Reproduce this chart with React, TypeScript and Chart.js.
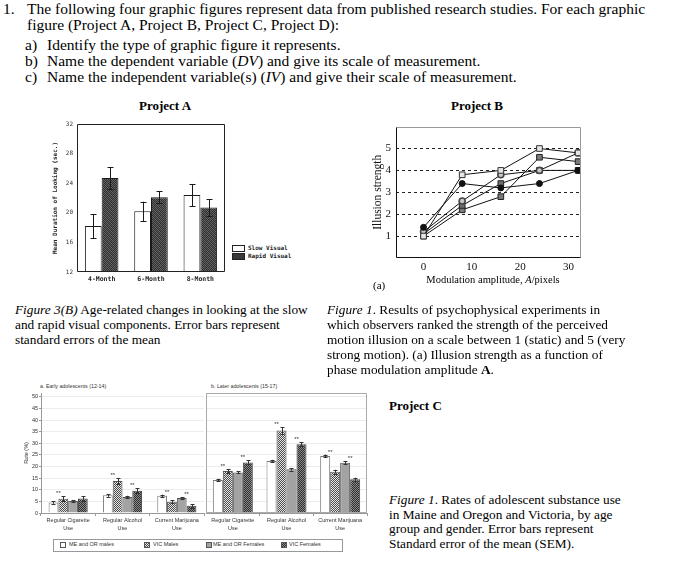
import React, { useEffect, useRef } from 'react';
import { Chart, registerables } from 'chart.js';

Chart.register(...registerables);

// ---------------- Project A data ----------------
const aCategories = ['4-Month', '6-Month', '8-Month'];
const aSlow = [18.2, 20.2, 22.4];
const aSlowErr = [1.6, 1.3, 1.5];
const aRapid = [24.7, 22.1, 20.7];
const aRapidErr = [1.5, 0.8, 1.1];
const aTicks = [12, 16, 20, 24, 28, 32];

// ---------------- Project B data ----------------
const bX = [0, 8, 16, 24, 32];
const bOpenSquare = [1.0, 3.8, 4.0, 5.0, 4.8];
const bBlackCircle = [1.4, 3.4, 3.2, 3.4, 4.0];
const bRingCircle = [1.2, 2.6, 3.8, 4.0, 4.8];
const bGraySquareA = [1.1, 2.4, 3.4, 4.0, 4.0];
const bGraySquareB = [1.0, 2.2, 2.8, 4.6, 4.4];
const bTicksX = [0, 10, 20, 30];
const bTicksY = [1, 2, 3, 4, 5];

// ---------------- Project C data ----------------
const cCategories = [
  ['Regular Cigarette', 'Use'],
  ['Regular Alcohol', 'Use'],
  ['Current Marijuana', 'Use'],
];
const cTicks = [0, 5, 10, 15, 20, 25, 30, 35, 40, 45, 50];
const cSeriesNames = ['ME and OR males', 'VIC Males', 'ME and OR Females', 'VIC Females'];

const earlyMeOrMales = [4.5, 7.6, 7.4];
const earlyVicMales = [6.1, 13.8, 4.9];
const earlyMeOrFemales = [5.2, 6.9, 6.5];
const earlyVicFemales = [6.3, 9.6, 3.1];
const earlyMeOrMalesErr = [0.5, 0.6, 0.5];
const earlyVicMalesErr = [1.1, 1.3, 0.7];
const earlyMeOrFemalesErr = [0.4, 0.5, 0.4];
const earlyVicFemalesErr = [1.0, 1.0, 0.8];
const earlySigMales = [true, true, true];
const earlySigFemales = [false, true, true];

const laterMeOrMales = [14.2, 22.4, 24.6];
const laterVicMales = [18.1, 35.5, 17.8];
const laterMeOrFemales = [17.5, 18.8, 21.7];
const laterVicFemales = [21.8, 29.6, 14.5];
const laterMeOrMalesErr = [0.5, 0.5, 0.6];
const laterVicMalesErr = [0.9, 1.4, 0.8];
const laterMeOrFemalesErr = [0.4, 0.5, 0.6];
const laterVicFemalesErr = [0.9, 0.9, 0.7];
const laterSigMales = [true, true, true];
const laterSigFemales = [true, true, true];

// ---------------- helpers ----------------
function makePattern(rows: string[][]): CanvasPattern | string {
  const c = document.createElement('canvas');
  c.height = rows.length;
  c.width = rows[0].length;
  const ctx = c.getContext('2d');
  if (!ctx) return rows[0][0];
  rows.forEach((row, y) => row.forEach((col, x) => {
    ctx.fillStyle = col;
    ctx.fillRect(x, y, 1, 1);
  }));
  return ctx.createPattern(c, 'repeat') || rows[0][0];
}

const errorBarPlugin = {
  id: 'errorBars',
  afterDatasetsDraw(chart: any, _args: any, opts: any) {
    const ctx = chart.ctx;
    const yScale = chart.scales.y;
    ctx.save();
    ctx.strokeStyle = opts.color || '#000';
    ctx.lineWidth = opts.width || 1;
    chart.data.datasets.forEach((ds: any, i: number) => {
      if (!ds.errors) return;
      const meta = chart.getDatasetMeta(i);
      meta.data.forEach((el: any, j: number) => {
        const v = ds.data[j];
        const e = ds.errors[j];
        const x = Math.round(el.x) + 0.5;
        const yT = yScale.getPixelForValue(v + e);
        const yB = yScale.getPixelForValue(v - e);
        const cap = opts.cap || 2;
        ctx.beginPath();
        ctx.moveTo(x, yT);
        ctx.lineTo(x, yB);
        ctx.moveTo(x - cap, Math.round(yT) + 0.5);
        ctx.lineTo(x + cap, Math.round(yT) + 0.5);
        ctx.moveTo(x - cap, Math.round(yB) + 0.5);
        ctx.lineTo(x + cap, Math.round(yB) + 0.5);
        ctx.stroke();
      });
    });
    ctx.restore();
  },
};

const pairSigPlugin = {
  id: 'pairSig',
  afterDatasetsDraw(chart: any, _args: any, opts: any) {
    if (!opts.pairs) return;
    const ctx = chart.ctx;
    const yScale = chart.scales.y;
    ctx.save();
    ctx.fillStyle = opts.color || '#333';
    ctx.font = `${opts.size || 6}px "Liberation Sans", Arial, sans-serif`;
    ctx.textAlign = 'center';
    ctx.textBaseline = 'alphabetic';
    opts.pairs.forEach((p: any) => {
      const [a, b, flags] = p;
      const dsA = chart.data.datasets[a];
      const dsB = chart.data.datasets[b];
      const mA = chart.getDatasetMeta(a);
      const mB = chart.getDatasetMeta(b);
      flags.forEach((f: boolean, j: number) => {
        if (!f) return;
        const top = Math.max(dsA.data[j] + dsA.errors[j], dsB.data[j] + dsB.errors[j]);
        const x = (mA.data[j].x + mB.data[j].x) / 2;
        const y = yScale.getPixelForValue(top) - 1;
        ctx.fillText('**', x, y);
      });
    });
    ctx.restore();
  },
};

const framePlugin = {
  id: 'frame',
  afterDatasetsDraw(chart: any, _args: any, opts: any) {
    const { left, right, top, bottom } = chart.chartArea;
    const ctx = chart.ctx;
    ctx.save();
    ctx.lineWidth = 1;
    const l = Math.round(left) + 0.5, r = Math.round(right) - 0.5;
    const t = Math.round(top) + 0.5, b = Math.round(bottom) - 0.5;
    ctx.strokeStyle = opts.topRight || opts.color || '#000';
    ctx.beginPath();
    ctx.moveTo(l, t); ctx.lineTo(r, t); ctx.lineTo(r, b);
    ctx.stroke();
    ctx.strokeStyle = opts.leftBottom || opts.color || '#000';
    ctx.lineWidth = opts.axisWidth || 1;
    ctx.beginPath();
    ctx.moveTo(l, t); ctx.lineTo(l, b); ctx.lineTo(r, b);
    ctx.stroke();
    ctx.restore();
  },
};

function ChartBox(props: { left: number; top: number; width: number; height: number; make: () => any }) {
  const ref = useRef<HTMLCanvasElement | null>(null);
  useEffect(() => {
    if (!ref.current) return;
    const chart = new Chart(ref.current, props.make());
    return () => chart.destroy();
  }, []);
  return (
    <canvas
      ref={ref}
      width={props.width}
      height={props.height}
      style={{ position: 'absolute', left: props.left, top: props.top, width: props.width, height: props.height }}
    />
  );
}

const mono = '"DejaVu Sans Mono", monospace';
const serif = '"Liberation Serif", "Times New Roman", serif';
const sans = '"Liberation Sans", Arial, sans-serif';

function makeA() {
  const stipple = makePattern([
    ['#2b2b2b', '#5a5a5a', '#333333', '#6a6a6a'],
    ['#666666', '#2e2e2e', '#5e5e5e', '#303030'],
    ['#353535', '#6a6a6a', '#2a2a2a', '#5a5a5a'],
    ['#5e5e5e', '#303030', '#686868', '#2e2e2e'],
  ]);
  return {
    type: 'bar',
    data: {
      labels: aCategories,
      datasets: [
        { label: 'Slow Visual', data: aSlow, errors: aSlowErr, backgroundColor: '#ffffff', borderColor: '#1a1a1a', borderWidth: 1 },
        { label: 'Rapid Visual', data: aRapid, errors: aRapidErr, backgroundColor: stipple, borderColor: '#1a1a1a', borderWidth: 1 },
      ],
    },
    options: {
      responsive: false,
      animation: false,
      layout: { padding: { left: 0, right: 5, top: 9, bottom: 0 } },
      datasets: { bar: { categoryPercentage: 0.68, barPercentage: 1 } },
      plugins: {
        legend: { display: false },
        tooltip: { enabled: false },
        errorBars: { color: '#1a1a1a', cap: 3, width: 1 },
        frame: { color: '#222' },
      },
      scales: {
        x: {
          grid: { display: false, drawTicks: false },
          border: { display: false },
          ticks: { font: { family: mono, size: 6.5, weight: 'bold' }, color: '#222', padding: 3 },
          afterFit: (s: any) => { s.height = 18; },
        },
        y: {
          min: 12,
          max: 32,
          afterBuildTicks: (s: any) => { s.ticks = aTicks.map((v) => ({ value: v })); },
          grid: { display: false, drawTicks: false },
          border: { display: false },
          ticks: { font: { family: mono, size: 6 }, color: '#333', padding: 4 },
          title: {
            display: true,
            text: 'Mean Duration of Looking (sec.)',
            font: { family: mono, size: 6, weight: 'bold' },
            color: '#222',
            padding: { top: 12, bottom: 0 },
          },
          afterFit: (s: any) => { s.width = 37; },
        },
      },
    },
    plugins: [errorBarPlugin, framePlugin],
  };
}

function makeB() {
  const series = [
    { data: bOpenSquare, style: 'rect', fill: '#e6e6e6', border: '#333', r: 4 },
    { data: bBlackCircle, style: 'circle', fill: '#111', border: '#111', r: 3 },
    { data: bRingCircle, style: 'circle', fill: '#c8c8c8', border: '#444', r: 3 },
    { data: bGraySquareA, style: 'rect', fill: '#6e6e6e', border: '#222', r: 4 },
    { data: bGraySquareB, style: 'rect', fill: '#7a7a7a', border: '#222', r: 4 },
  ];
  return {
    type: 'scatter',
    data: {
      datasets: series.map((s, i) => ({
        label: 'S' + (i + 1),
        data: bX.map((x, j) => ({ x, y: s.data[j] })),
        showLine: true,
        borderColor: '#111',
        borderWidth: 1,
        pointStyle: s.style,
        pointRadius: s.r,
        pointBackgroundColor: s.fill,
        pointBorderColor: s.border,
        pointBorderWidth: s.style === 'circle' && i === 2 ? 1.6 : 1,
      })),
    },
    options: {
      responsive: false,
      animation: false,
      layout: { padding: { left: 0, right: 9, top: 5, bottom: 0 } },
      plugins: {
        legend: { display: false },
        tooltip: { enabled: false },
        frame: { topRight: '#999', leftBottom: '#111' },
      },
      scales: {
        x: {
          type: 'linear',
          min: -5.7,
          max: 32.6,
          afterBuildTicks: (s: any) => { s.ticks = bTicksX.map((v) => ({ value: v })); },
          grid: { display: false, drawTicks: false },
          border: { display: false },
          ticks: { font: { family: serif, size: 11, lineHeight: 1 }, color: '#111', padding: 4 },
          afterFit: (s: any) => { s.height = 32; },
        },
        y: {
          min: 0,
          max: 6,
          afterBuildTicks: (s: any) => { s.ticks = bTicksY.map((v) => ({ value: v })); },
          grid: { color: '#222', lineWidth: 1, drawTicks: false },
          border: { display: false, dash: [3, 3] },
          ticks: { font: { family: serif, size: 11 }, color: '#111', padding: 5 },
          title: {
            display: true,
            text: 'Illusion strength',
            font: { family: serif, size: 11.5 },
            color: '#111',
            padding: { top: 21, bottom: 0 },
          },
          afterFit: (s: any) => { s.width = 46; },
        },
      },
    },
    plugins: [framePlugin],
  };
}

function cFills() {
  return [
    '#ffffff',
    makePattern([['#4a4a4a', '#e8e8e8'], ['#e8e8e8', '#4a4a4a']]),
    '#a3a3a3',
    makePattern([['#2e2e2e', '#8a8a8a'], ['#8a8a8a', '#2e2e2e']]),
  ];
}

function makeC(
  values: number[][],
  errors: number[][],
  sigMales: boolean[],
  sigFemales: boolean[],
  showY: boolean,
  catPct: number,
  padRight: number,
) {
  const fills = cFills();
  const borders = ['#777', '#555', '#555', '#444'];
  return {
    type: 'bar',
    data: {
      labels: cCategories,
      datasets: values.map((v, i) => ({
        label: cSeriesNames[i],
        data: v,
        errors: errors[i],
        backgroundColor: fills[i],
        borderColor: borders[i],
        borderWidth: 1,
      })),
    },
    options: {
      responsive: false,
      animation: false,
      layout: { padding: { left: 0, right: padRight, top: 10, bottom: 0 } },
      datasets: { bar: { categoryPercentage: catPct, barPercentage: 1 } },
      plugins: {
        legend: { display: false },
        tooltip: { enabled: false },
        errorBars: { color: '#333', cap: 2, width: 1 },
        pairSig: { pairs: [[0, 1, sigMales], [2, 3, sigFemales]], size: 6, color: '#333' },
        ...(showY ? {} : { frame: { color: '#aaa' } }),
      },
      scales: {
        x: {
          grid: { display: true, drawOnChartArea: false, drawTicks: true, tickLength: 3, tickColor: '#999', offset: true },
          border: { display: true, color: '#999' },
          ticks: { font: { family: sans, size: 5.5, lineHeight: 1.35 }, color: '#333', padding: 1, maxRotation: 0, autoSkip: false },
          afterFit: (s: any) => { s.height = 25; },
        },
        y: {
          min: 0,
          max: 51.7,
          afterBuildTicks: (s: any) => { s.ticks = cTicks.map((v) => ({ value: v })); },
          grid: { color: '#ececec', drawTicks: showY, tickLength: 2, tickColor: '#999' },
          border: { display: showY, color: '#999' },
          ticks: { display: showY, font: { family: sans, size: 5.5 }, color: '#333', padding: 1 },
          title: {
            display: showY,
            text: 'Rate (%)',
            font: { family: sans, size: 5.5 },
            color: '#333',
            padding: { top: 8, bottom: 0 },
          },
          afterFit: (s: any) => { s.width = showY ? 26 : 0; },
        },
      },
    },
    plugins: showY ? [errorBarPlugin, pairSigPlugin] : [errorBarPlugin, pairSigPlugin, framePlugin],
  };
}

const abs = (left: number, top: number, extra: React.CSSProperties = {}): React.CSSProperties => ({
  position: 'absolute',
  left,
  top,
  whiteSpace: 'nowrap',
  ...extra,
});

export default function App() {
  const head: React.CSSProperties = { fontSize: 15.5, lineHeight: '16px' };
  const cap: React.CSSProperties = { fontSize: 13.3, lineHeight: '15px' };
  return (
    <div style={{ position: 'absolute', left: 0, top: 0, width: 675, height: 565, background: '#fff', color: '#000', fontFamily: serif, overflow: 'hidden' }}>
      <div style={abs(3, 0.8, head)}>1.</div>
      <div style={abs(27, 0.8, head)}>
        The following four graphic figures represent data from published research studies. For each graphic
        <br />
        figure (Project A, Project B, Project C, Project D):
      </div>
      <div style={abs(25, 36.8, head)}>a)<br />b)<br />c)</div>
      <div style={abs(47, 36.8, head)}>
        Identify the type of graphic figure it represents.
        <br />
        Name the dependent variable (<i>DV</i>) and give its scale of measurement.
        <br />
        Name the independent variable(s) (<i>IV</i>) and give their scale of measurement.
      </div>

      <div style={abs(165, 98, { fontSize: 13, lineHeight: '15px', fontWeight: 'bold', transform: 'translateX(-50%)' })}>Project A</div>
      <div style={abs(477, 98, { fontSize: 13, lineHeight: '15px', fontWeight: 'bold', transform: 'translateX(-50%)' })}>Project B</div>

      <ChartBox left={40} top={115} width={190} height={175} make={makeA} />
      <div style={abs(232, 245, { width: 11, height: 5, border: '1px solid #222', background: '#fff' })} />
      <div style={abs(232, 253, { width: 11, height: 5, border: '1px solid #222', background: '#3a3a3a' })} />
      <div style={abs(248, 244, { fontFamily: mono, fontSize: 6, lineHeight: '8px', fontWeight: 'bold', color: '#222' })}>
        Slow Visual<br />Rapid Visual
      </div>

      <ChartBox left={350} top={115} width={590 - 350} height={175} make={makeB} />
      <div style={abs(493, 274, { fontSize: 10.5, lineHeight: '12px', transform: 'translateX(-50%)' })}>
        Modulation amplitude, <i>A</i>/pixels
      </div>
      <div style={abs(373, 279, { fontSize: 11, lineHeight: '12px' })}>(a)</div>

      <div style={abs(15, 302.3, cap)}>
        <i>Figure 3(B)</i> Age-related changes in looking at the slow
        <br />
        and rapid visual components. Error bars represent
        <br />
        standard errors of the mean
      </div>
      <div style={abs(327, 302.3, cap)}>
        <i>Figure 1</i>. Results of psychophysical experiments in
        <br />
        which observers ranked the strength of the perceived
        <br />
        motion illusion on a scale between 1 (static) and 5 (very
        <br />
        strong motion). (a) Illusion strength as a function of
        <br />
        phase modulation amplitude <b>A</b>.
      </div>

      <div style={abs(40, 383, { fontFamily: sans, fontSize: 5.3, lineHeight: '6px', color: '#333' })}>a. Early adolescents (12-14)</div>
      <div style={abs(211, 383, { fontFamily: sans, fontSize: 5.3, lineHeight: '6px', color: '#333' })}>b. Later adolescents (15-17)</div>

      <ChartBox
        left={15}
        top={383}
        width={191}
        height={155}
        make={() => makeC(
          [earlyMeOrMales, earlyVicMales, earlyMeOrFemales, earlyVicFemales],
          [earlyMeOrMalesErr, earlyVicMalesErr, earlyMeOrFemalesErr, earlyVicFemalesErr],
          earlySigMales, earlySigFemales, true, 0.72, 2,
        )}
      />
      <ChartBox
        left={206}
        top={383}
        width={164}
        height={155}
        make={() => makeC(
          [laterMeOrMales, laterVicMales, laterMeOrFemales, laterVicFemales],
          [laterMeOrMalesErr, laterVicMalesErr, laterMeOrFemalesErr, laterVicFemalesErr],
          laterSigMales, laterSigFemales, false, 0.745, 3,
        )}
      />

      <div style={abs(53, 539, { width: 288, height: 11, border: '1px solid #999', background: '#fff' })} />
      {[
        { x: 60, tx: 69, label: cSeriesNames[0], bg: '#fff' },
        { x: 144, tx: 153, label: cSeriesNames[1], bg: 'repeating-conic-gradient(#4a4a4a 0 25%, #e8e8e8 0 50%) 0 0 / 2px 2px' },
        { x: 206, tx: 213, label: cSeriesNames[2], bg: '#a3a3a3' },
        { x: 281, tx: 289, label: cSeriesNames[3], bg: 'repeating-conic-gradient(#2e2e2e 0 25%, #8a8a8a 0 50%) 0 0 / 2px 2px' },
      ].map((it) => (
        <React.Fragment key={it.label}>
          <div style={abs(it.x, 542, { width: 4, height: 4, border: '1px solid #555', background: it.bg })} />
          <div style={abs(it.tx, 541, { fontFamily: sans, fontSize: 5.5, lineHeight: '7px', color: '#333' })}>{it.label}</div>
        </React.Fragment>
      ))}

      <div style={abs(389, 398, { fontSize: 13, lineHeight: '15px', fontWeight: 'bold' })}>Project C</div>
      <div style={abs(389, 493.3, { fontSize: 13.3, lineHeight: '14.5px' })}>
        <i>Figure 1</i>. Rates of adolescent substance use
        <br />
        in Maine and Oregon and Victoria, by age
        <br />
        group and gender. Error bars represent
        <br />
        Standard error of the mean (SEM).
      </div>
    </div>
  );
}
